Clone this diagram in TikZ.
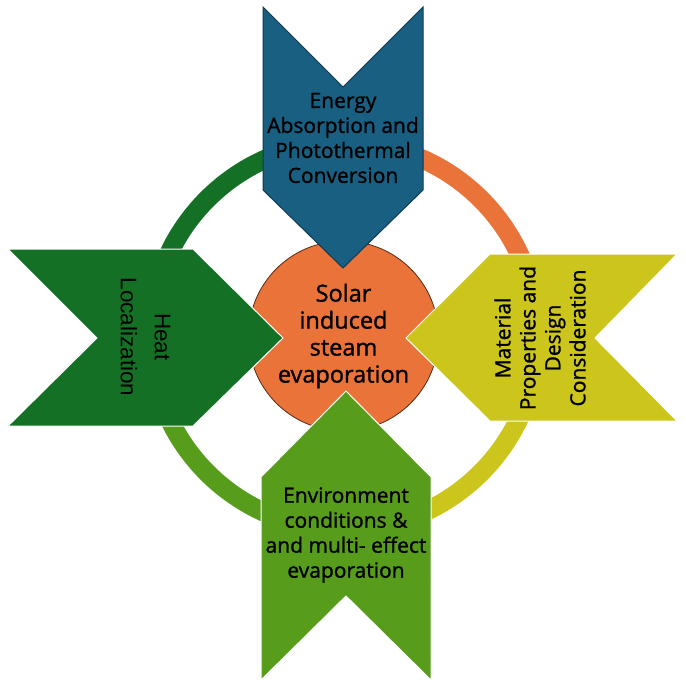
\documentclass[tikz,border=0pt]{standalone}
\usepackage{fontspec}
\setmainfont{Open Sans}[FakeBold=1.2]
\newfontfamily\arialfont{Liberation Sans}
\definecolor{cblue}{HTML}{185F82}
\definecolor{cdgreen}{HTML}{137025}
\definecolor{corange}{HTML}{E97339}
\definecolor{cyellow}{HTML}{CCC51C}
\definecolor{clgreen}{HTML}{579C1B}
\definecolor{cbrown}{HTML}{5A2A12}
\definecolor{cnavy}{HTML}{0D3A52}
\begin{document}
\begin{tikzpicture}[x=1pt,y=-1pt,
  ringseg/.style={line width=19pt},
  chevbox/.style={line width=1pt, draw=white, line join=miter},
  chevtext/.style={align=center, text=black, inner sep=0pt, font=\fontsize{21}{25}\selectfont}]
\useasboundingbox (0,0) rectangle (685,687);
\coordinate (c) at (344,336);
% ring
\draw[ringseg, cdgreen] (c) ++(90:193.5pt) arc[start angle=90, end angle=180, radius=193.5pt];
\draw[ringseg, corange] (c) ++(0:193.5pt) arc[start angle=0, end angle=90, radius=193.5pt];
\draw[ringseg, cyellow] (c) ++(-90:193.5pt) arc[start angle=-90, end angle=0, radius=193.5pt];
\draw[ringseg, clgreen] (c) ++(180:193.5pt) arc[start angle=180, end angle=270, radius=193.5pt];
% centre
\node[circle, fill=corange, draw=cbrown, line width=0.8pt, minimum size=190pt, inner sep=0pt,
  align=center, font=\fontsize{23.5}{27}\selectfont] (core) at (343.5,336)
  {Solar\\induced\\steam\\evaporation};
% chevrons
\filldraw[chevbox, fill=cblue, draw=cnavy] (263,7) -- (343,87) -- (423,7) -- (423,190) -- (343,268) -- (263,190) -- cycle;
\filldraw[chevbox, fill=cdgreen] (8,249) -- (193,249) -- (283,338) -- (193,426) -- (8,426) -- (97,338) -- cycle;
\filldraw[chevbox, fill=cyellow] (677,254) -- (490,254) -- (406,338) -- (490,421) -- (677,421) -- (595,338) -- cycle;
\filldraw[chevbox, fill=clgreen] (261,680) -- (346,596) -- (431,680) -- (431,477) -- (346,391) -- (261,477) -- cycle;
% labels
\node[chevtext] (energy) at (343,138) {Energy\\Absorption and\\Photothermal\\Conversion};
\node[chevtext] (env) at (346,535) {Environment\\conditions \&\\and multi- effect\\evaporation};
\node[chevtext, rotate=90] (mat) at (540,338) {Material\\Properties and\\Design\\Consideration};
\node[chevtext, rotate=-90, font=\arialfont\fontsize{22.5}{34}\selectfont] (heat) at (145.5,337) {Heat\\Localization};
\end{tikzpicture}
\end{document}
